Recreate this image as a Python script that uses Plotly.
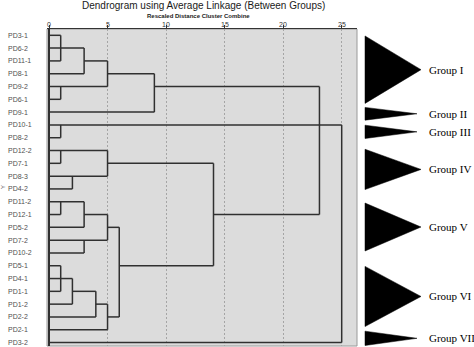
import plotly.graph_objects as go

# ---------------- data ----------------
leaf_labels = ["PD3-1", "PD6-2", "PD11-1", "PD8-1", "PD9-2", "PD6-1", "PD9-1",
               "PD10-1", "PD8-2", "PD12-2", "PD7-1", "PD8-3", "PD4-2", "PD11-2",
               "PD12-1", "PD5-2", "PD7-2", "PD10-2", "PD5-1", "PD4-1", "PD1-1",
               "PD1-2", "PD2-2", "PD2-1", "PD3-2"]

# horizontal runs drawn on each leaf row: (from distance, to distance)
row_runs = [
    [(0, 1)],
    [(0, 3)],
    [(0, 1), (3, 5)],
    [(0, 3), (5, 9)],
    [(0, 5), (9, 23.1)],
    [(0, 1)],
    [(0, 9)],
    [(0, 25)],
    [(0, 1)],
    [(0, 5)],
    [(0, 1), (5, 14.05)],
    [(0, 5)],
    [(0, 2)],
    [(0, 3)],
    [(0, 1), (3, 5), (14.05, 23.1)],
    [(0, 3), (5, 6)],
    [(0, 5)],
    [(0, 3)],
    [(0, 1), (6, 14.05)],
    [(0, 2)],
    [(0, 1), (2, 4)],
    [(0, 2), (4, 5)],
    [(0, 4), (5, 6)],
    [(0, 5)],
    [(0, 25)],
]

# vertical joins: distance, first row, last row
merge_dist = [1, 3, 5, 1, 9, 1, 1, 5, 2, 1, 3, 5, 3, 6, 1, 2, 4, 5, 14.05, 23.1, 25]
merge_top = [1, 2, 3, 5, 4, 8, 10, 10, 12, 14, 14, 15, 17, 16, 19, 20, 21, 22, 11, 5, 8]
merge_bottom = [3, 4, 5, 6, 7, 9, 11, 12, 13, 15, 16, 17, 18, 23, 21, 22, 23, 24, 19, 15, 25]

x_ticks = [0, 5, 10, 15, 20, 25]

group_names = ["Group I", "Group II", "Group III", "Group IV", "Group V", "Group VI", "Group VII"]
group_top = [1.05, 6.63, 8.02, 9.90, 14.10, 19.05, 24.11]
group_bottom = [6.32, 7.63, 9.06, 13.05, 17.85, 23.75, 25.23]
group_big = [True, False, False, True, True, True, False]

# ---------------- layout helpers ----------------
W, H = 474, 347
ML, MR, MT, MB = 47, 0, 29, 1
PW, PH = W - ML - MR, H - MT - MB
MAIN_RIGHT = 357  # px where the dendrogram box ends


def px(xp):
    return (xp - ML) / PW


def py(yp):
    return (H - MB - yp) / PH


main_frac = (MAIN_RIGHT - ML) / PW

fig = go.Figure()

# dendrogram lines
xs, ys = [], []
for r, runs in enumerate(row_runs, start=1):
    for a, b in runs:
        xs += [a, b, None]
        ys += [r, r, None]
for d, t, b in zip(merge_dist, merge_top, merge_bottom):
    xs += [d, d, None]
    ys += [t, b, None]

fig.add_trace(go.Scatter(x=xs, y=ys, mode="lines",
                         line=dict(color="#303030", width=1.5),
                         hoverinfo="skip", showlegend=False,
                         xaxis="x", yaxis="y"))

# group triangles
for name, t, b, big in zip(group_names, group_top, group_bottom, group_big):
    left, apex = 8, (64 if big else 60)
    mid = (t + b) / 2
    fig.add_trace(go.Scatter(x=[left, apex, left, left], y=[t, mid, b, t],
                             mode="lines", fill="toself", fillcolor="black",
                             line=dict(color="black", width=0.5),
                             hoverinfo="skip", showlegend=False,
                             xaxis="x2", yaxis="y"))
    fig.add_annotation(x=70, y=mid, xref="x2", yref="y", text=name,
                       showarrow=False, xanchor="left", yanchor="middle",
                       font=dict(family="Liberation Serif", size=11, color="black"))

# leaf labels
for r, lab in enumerate(leaf_labels, start=1):
    fig.add_annotation(x=px(6), y=r, xref="paper", yref="y", text=lab,
                       showarrow=False, xanchor="left", yanchor="middle",
                       font=dict(family="Liberation Sans", size=7, color="#505050"))

# top tick labels
for t in x_ticks:
    fig.add_annotation(x=t, y=py(24), xref="x", yref="paper", text=str(t),
                       showarrow=False, xanchor="center", yanchor="middle",
                       font=dict(family="Liberation Sans", size=7, color="#333333"))

# titles
fig.add_annotation(x=px(203), y=py(5.5), xref="paper", yref="paper",
                   text="Dendrogram using Average Linkage (Between Groups)",
                   showarrow=False, xanchor="center", yanchor="middle",
                   font=dict(family="Liberation Sans", size=10, color="#1a1a1a"))
fig.add_annotation(x=px(198), y=py(15.5), xref="paper", yref="paper",
                   text="<b>Rescaled Distance Cluster Combine</b>",
                   showarrow=False, xanchor="center", yanchor="middle",
                   font=dict(family="Liberation Sans", size=6, color="#222222"))
fig.add_annotation(x=px(3), y=py(187), xref="paper", yref="paper", text="Y",
                   showarrow=False, textangle=-90, xanchor="center", yanchor="middle",
                   font=dict(family="Liberation Sans", size=6, color="#606060"))

# background box + frame
fig.add_shape(type="rect", xref="x domain", yref="y domain", x0=0, x1=1, y0=0, y1=1,
              fillcolor="#dcdcdc", line=dict(color="#9a9a9a", width=1), layer="below")
fig.add_shape(type="line", xref="x", yref="y domain", x0=0, x1=0, y0=0, y1=1,
              line=dict(color="#303030", width=2))

d_per_px = 25 / (341.7 - 49)
fig.update_layout(
    width=W, height=H,
    margin=dict(l=ML, r=MR, t=MT, b=MB),
    paper_bgcolor="white", plot_bgcolor="rgba(0,0,0,0)",
    xaxis=dict(domain=[0, main_frac], side="top",
               range=[(ML - 49) * d_per_px, (MAIN_RIGHT - 49) * d_per_px],
               tickvals=x_ticks, ticks="outside", ticklen=3, tickcolor="#333333",
               showticklabels=False,
               showline=True, linecolor="#333333", linewidth=1, mirror=False,
               showgrid=True, gridcolor="#a5a5a5", gridwidth=1, griddash="2px,2px",
               zeroline=False, fixedrange=True),
    xaxis2=dict(domain=[main_frac, 1], range=[0, W - MAIN_RIGHT], anchor="y",
                showticklabels=False, showgrid=False, zeroline=False,
                showline=False, visible=False),
    yaxis=dict(range=[25.27, 0.507], showticklabels=False, showgrid=False,
               zeroline=False, showline=False, ticks=""),
)

fig.write_html("out.html")
